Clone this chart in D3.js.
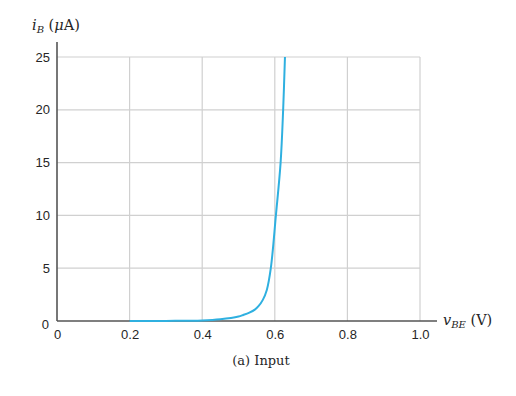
<!DOCTYPE html>
<html>
<head>
<meta charset="utf-8">
<script src="https://cdn.jsdelivr.net/npm/d3@7"></script>
<style>
  html, body { margin: 0; padding: 0; background: #fff; }
  svg { display: block; }
</style>
</head>
<body>
<div id="chart"></div>
<script>
/* ── Data ─────────────────────────────────────────────────────── */

// base–emitter voltage (V) and base current (µA)
const vBE = [0.20, 0.30, 0.40, 0.45, 0.50, 0.513, 0.53, 0.545, 0.555, 0.567, 0.578, 0.589, 0.603, 0.616, 0.623, 0.628];
const iB  = [0.00, 0.01, 0.05, 0.16, 0.42, 0.57, 0.80, 1.08, 1.40, 2.00, 2.94, 5.0, 10.0, 15.0, 20.0, 25.0];

const xTicks = [0.2, 0.4, 0.6, 0.8, 1.0];
const yTicks = [5, 10, 15, 20, 25];

/* ── Layout ───────────────────────────────────────────────────── */

const FONT = '"DejaVu Serif", "Liberation Serif", serif';
const INK = '#262626';

const width = 516, height = 396;
const x0 = 57, x1 = 420, y0 = 321, y1 = 57;

const svg = d3.select('#chart').append('svg')
  .attr('width', width)
  .attr('height', height)
  .attr('font-family', FONT);

const x = d3.scaleLinear().domain([0, 1]).range([x0, x1]);
const y = d3.scaleLinear().domain([0, 25]).range([y0, y1]);

/* ── Grid ─────────────────────────────────────────────────────── */

const grid = svg.append('g').attr('stroke', '#d0d0d0').attr('stroke-width', 1.2);

grid.selectAll('line.v')
  .data(xTicks)
  .join('line')
  .attr('class', 'v')
  .attr('x1', d => x(d)).attr('x2', d => x(d))
  .attr('y1', y(0)).attr('y2', y(25));

grid.selectAll('line.h')
  .data(yTicks)
  .join('line')
  .attr('class', 'h')
  .attr('x1', x(0)).attr('x2', x(1))
  .attr('y1', d => y(d)).attr('y2', d => y(d));

/* ── Axes ─────────────────────────────────────────────────────── */

// labels from d3 axes; the axis lines are drawn by hand so they overshoot
const xAxis = d3.axisBottom(x)
  .tickValues([0].concat(xTicks))
  .tickFormat(d => d === 0 ? '0' : d3.format('.1f')(d))
  .tickSize(0)
  .tickPadding(9);

const gx = svg.append('g')
  .attr('transform', `translate(0,${y0})`)
  .attr('font-family', FONT)
  .call(xAxis);
gx.select('.domain').remove();
gx.selectAll('text')
  .attr('font-size', 13)
  .attr('fill', INK);

const yAxis = d3.axisLeft(y)
  .tickValues([0].concat(yTicks))
  .tickSize(0)
  .tickPadding(7);

const gy = svg.append('g')
  .attr('transform', `translate(${x0},0)`)
  .attr('font-family', FONT)
  .call(yAxis);
gy.select('.domain').remove();
gy.selectAll('text')
  .attr('font-size', 13)
  .attr('fill', INK)
  .attr('dy', d => d === 0 ? '0.55em' : '0.32em')
  .attr('dx', d => d === 0 ? -1 : 0);

svg.append('line')
  .attr('x1', x0).attr('x2', 437)
  .attr('y1', y0).attr('y2', y0)
  .attr('stroke', '#555').attr('stroke-width', 1.6);

svg.append('line')
  .attr('x1', x0).attr('x2', x0)
  .attr('y1', y0).attr('y2', 42)
  .attr('stroke', '#555').attr('stroke-width', 1.6);

/* ── Curve ────────────────────────────────────────────────────── */

const pts = vBE.map((v, i) => [v, iB[i]]);

svg.append('path')
  .datum(pts)
  .attr('fill', 'none')
  .attr('stroke', '#2fb0e0')
  .attr('stroke-width', 2)
  .attr('d', d3.line()
    .x(d => x(d[0]))
    .y(d => y(d[1]))
    .curve(d3.curveCatmullRom.alpha(0.5)));

/* ── Labels ───────────────────────────────────────────────────── */

const yLabel = svg.append('text')
  .attr('x', 32).attr('y', 30)
  .attr('font-size', 14.5)
  .attr('fill', INK);
yLabel.append('tspan').attr('font-style', 'italic').text('i');
yLabel.append('tspan').attr('font-style', 'italic').attr('font-size', 10).attr('dy', 3).text('B');
yLabel.append('tspan').attr('dy', -3).text(' (');
yLabel.append('tspan').attr('font-style', 'italic').text('μ');
yLabel.append('tspan').text('A)');

const xLabel = svg.append('text')
  .attr('x', 443).attr('y', 325)
  .attr('font-size', 14.5)
  .attr('fill', INK);
xLabel.append('tspan').attr('font-style', 'italic').text('v');
xLabel.append('tspan').attr('font-style', 'italic').attr('font-size', 10).attr('dy', 3).text('BE');
xLabel.append('tspan').attr('dy', -3).text(' (V)');

svg.append('text')
  .attr('x', 261).attr('y', 365)
  .attr('text-anchor', 'middle')
  .attr('font-size', 13)
  .attr('fill', INK)
  .text('(a) Input');
</script>
</body>
</html>
